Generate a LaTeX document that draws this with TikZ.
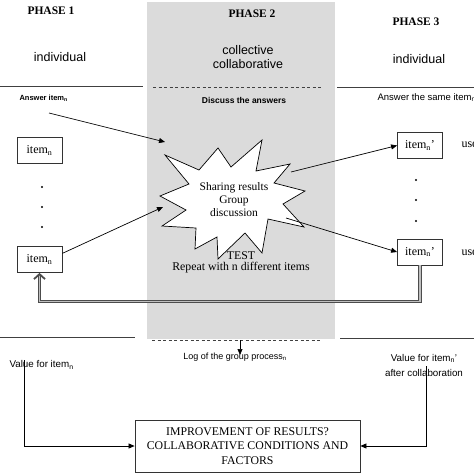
\documentclass[tikz,border=0pt]{standalone}
\usepackage{fontspec}
\setmainfont{Liberation Serif}
\setsansfont{Liberation Sans}
\usetikzlibrary{
  arrows.meta
}

\begin{document}
\begin{tikzpicture}[x=1pt, y=-1pt,
    rule/.style={line width=0.9pt, black!75},
    dashrule/.style={line width=0.8pt, black!75, dash pattern=on 3pt off 2.5pt},
    arr/.style={line width=0.7pt, -{Triangle[length=6pt, width=5pt]}},
    itembox/.style={draw, line width=0.8pt, black!80, fill=white, minimum width=45pt,
        minimum height=26pt, inner sep=0pt, text=black,
        font=\fontsize{12}{14}\selectfont},
    phase/.style={font=\bfseries\fontsize{11.5}{13}\selectfont},
    mode/.style={font=\sffamily\fontsize{12.5}{14}\selectfont, align=center},
    loopback/.style={line width=1.2pt, black!70, double=black!25, double distance=1.4pt,
        -{Straight Barb[length=5pt, width=11pt, line width=1.8pt]}}]
  \useasboundingbox (0,0) rectangle (474,474);
  \clip (0,0) rectangle (474,474);

  \fill[black!14] (147,2) rectangle (335,339);

  \draw[rule] (0,86) -- (143,86);
  \draw[dashrule] (153,87) -- (322,87);
  \draw[rule] (337,87) -- (474,87);
  \draw[rule] (0,337) -- (135,337);
  \draw[dashrule] (152,340) -- (322,340);
  \draw[rule] (340,338) -- (474,338);

  \node[phase] (ph1) at (51,11) {PHASE 1};
  \node[phase] (ph2) at (252,14) {PHASE 2};
  \node[phase] (ph3) at (416,22) {PHASE 3};
  \node[mode] (ind1) at (60,57) {individual};
  \node[mode] (coll) at (248,57) {collective\\collaborative};
  \node[mode] (ind3) at (419,59) {individual};

  \begin{scope}[font=\sffamily]
    \node[anchor=west, font=\sffamily\bfseries\fontsize{7.5}{9}\selectfont]
      (ans1) at (16,98) {Answer item\textsubscript{n}};
    \node[font=\sffamily\bfseries\fontsize{8.5}{10}\selectfont]
      (disc) at (244,100) {Discuss the answers};
    \node[anchor=west, font=\sffamily\fontsize{9.5}{11}\selectfont]
      (ans3) at (374,98) {Answer the same item\textsubscript{n}};
  \end{scope}

  % starburst
  \draw[line width=0.7pt, fill=white]
    (165,155) -- (199,170) -- (218,148) -- (231,167) -- (262,140) -- (256,171)
    -- (290,164) -- (274,183) -- (305,191) -- (283,204) -- (304,227) -- (268,219)
    -- (262,253) -- (245,233) -- (218,259) -- (217,237) -- (195,249) -- (196,228)
    -- (162,226) -- (186,210) -- (160,196) -- (189,184) -- cycle;
  \node[align=center, font=\fontsize{11.5}{13}\selectfont] (share) at (234,200)
    {Sharing results\\Group\\discussion};
  \node[align=center, font=\fontsize{11.8}{11.5}\selectfont] (test) at (241,262.5)
    {TEST\\Repeat with n different items};

  \node[itembox] (lt) at (39.5,150.5) {item\textsubscript{n}};
  \node[itembox] (lb) at (39.5,259.5) {item\textsubscript{n}};
  \node[itembox] (rt) at (420,145.5) {item\textsubscript{n}'};
  \node[itembox] (rb) at (420,252) {item\textsubscript{n}'};
  \foreach \y in {187,207,227} {
      \fill (42,\y) circle (1.1pt);
    }
  \foreach \y in {180,200,221} {
      \fill (416,\y) circle (1.1pt);
    }
  \node[anchor=west, font=\fontsize{12}{14}\selectfont] (us1) at (458,145) {use};
  \node[anchor=west, font=\fontsize{12}{14}\selectfont] (us2) at (458,253) {use};

  \coordinate (a0) at (49,113);
  \coordinate (a1) at (165,142);
  \coordinate (a2) at (163,207);
  \coordinate (s1) at (291,172);
  \coordinate (s2) at (286,218);
  \draw[arr] (a0) -- (a1);
  \draw[arr] (lb.15) -- (a2);
  \draw[arr] (s1) -- (rt.west);
  \draw[arr] (s2) -- (rb.west);

  \draw[loopback] (rb.south) -- ++(0,36) -| (lb.south);

  % results
  \node[font=\sffamily\fontsize{9}{11}\selectfont] (log) at (235,357)
    {Log of the group process\textsubscript{n}};
  \coordinate (logtop) at (240,340);
  \coordinate (logtip) at (240,355);
  \draw[arr] (logtop) -- (logtip);

  \node[draw, line width=0.8pt, black!80, text=black, minimum width=225pt, minimum height=52pt,
    align=center, font=\fontsize{11.8}{14.5}\selectfont] (impr) at (247.5,446)
    {IMPROVEMENT OF RESULTS?\\COLLABORATIVE CONDITIONS AND\\FACTORS};
  \node[anchor=west, font=\sffamily\fontsize{9.8}{11}\selectfont] (val1) at (6,365)
    {Value for item\textsubscript{n}};
  \node[align=center, font=\sffamily\fontsize{9.8}{15}\selectfont] (val3) at (424,365)
    {Value for item\textsubscript{n}'\\after collaboration};
  \coordinate (v1) at (24,360);
  \coordinate (v3) at (426,366);
  \draw[arr] (v1) |- (impr.west);
  \draw[arr] (v3) |- (impr.east);
\end{tikzpicture}
\end{document}
